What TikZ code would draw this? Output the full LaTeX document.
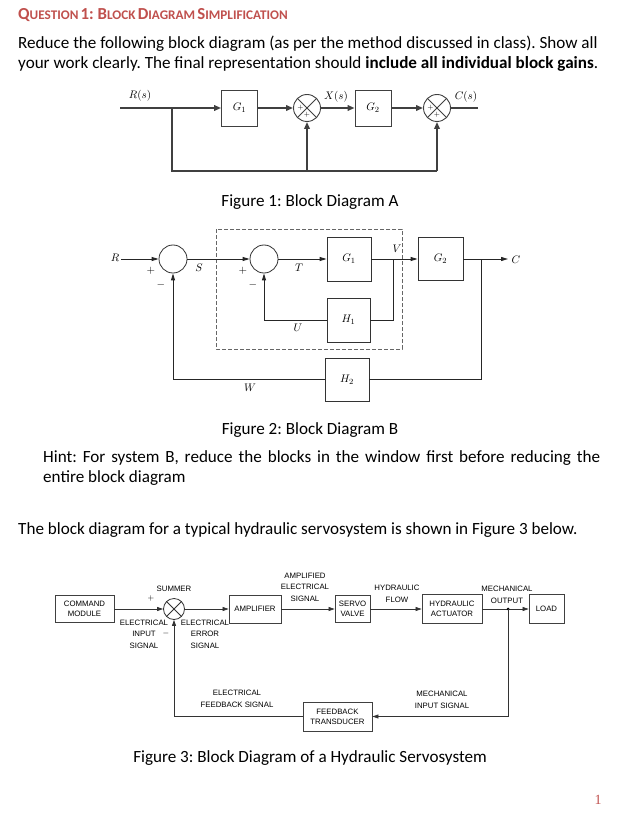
\documentclass[tikz,border=0pt]{standalone}
\usepackage{fontspec}
\setmainfont{Carlito}
\newfontfamily\labelfont{Liberation Sans}
\newfontfamily\pagefont{Liberation Serif}
\usetikzlibrary{arrows.meta}
\definecolor{headred}{RGB}{192,80,77}
\newcommand{\smcap}[2]{{\fontsize{16.8}{18}\selectfont #1}{\fontsize{13.2}{18}\selectfont #2}}

\begin{document}
\frenchspacing
\begin{tikzpicture}[x=1pt, y=-1pt,
	every node/.style={inner sep=0pt},
	txt/.style={font=\fontsize{17.1}{20}\selectfont, anchor=base west},
	capt/.style={font=\fontsize{17.1}{20}\selectfont, anchor=base},
	blka/.style={draw=black!75, line width=0.8pt, minimum width=36pt, minimum height=36pt, font=\fontsize{11}{13}\selectfont},
	suma/.style={draw=black!75, circle, line width=0.9pt, minimum size=27pt},
	wirea/.style={draw=black!75, line width=1.8pt},
	tipa/.style={-{Triangle[length=7pt,width=5.5pt]}},
	blkb/.style={draw=black!80, line width=0.8pt, minimum width=44pt, minimum height=44pt, font=\fontsize{11}{13}\selectfont},
	sumb/.style={draw=black!80, circle, line width=0.8pt, minimum size=28pt},
	wireb/.style={draw=black!85, line width=1pt},
	tipb/.style={-{Triangle[length=7pt,width=4pt]}},
	blkc/.style={draw=black!75, line width=0.8pt, align=center, font=\labelfont\fontsize{7.8}{10}\selectfont},
	wirec/.style={draw=black!80, line width=0.7pt},
	tipc/.style={-{Triangle[length=6pt,width=4pt]}},
	lblc/.style={align=center, font=\labelfont\fontsize{7.8}{11.5}\selectfont},
	lbl/.style={font=\fontsize{11}{13}\selectfont}]
	\useasboundingbox[fill=white] (0,0) rectangle (631,818);

	% heading and question text
	\node[anchor=base west, text=headred, font=\bfseries] (title) at (18,20)
		{\smcap{Q}{UESTION} \smcap{1: B}{LOCK} \smcap{D}{IAGRAM} \smcap{S}{IMPLIFICATION}};
	\node[txt] (q1a) at (18,49) {Reduce the following block diagram (as per the method discussed in class). Show all};
	\node[txt] (q1b) at (18,69) {your work clearly. The final representation should \textbf{include all individual block gains}.};

	% block diagram A
	\node[blka] (ga1) at (239.5,108) {$G_1$};
	\node[suma] (sa1) at (307,108) {};
	\node[blka] (ga2) at (373,108) {$G_2$};
	\node[suma] (sa2) at (437,108) {};
	\coordinate (ra) at (120,108);
	\coordinate (rabr) at (172,108);
	\coordinate (ca) at (478,108);
	\coordinate (fba1) at (172,171);
	\coordinate (fba2) at (307,171);
	\coordinate (fba3) at (437,171);
	\foreach \s in {sa1,sa2} {
		\draw[black!75, line width=0.9pt] (\s.north east) -- (\s.south west) (\s.north west) -- (\s.south east);
		\node[font=\scriptsize] at ([xshift=-6.5pt]\s.center) {$+$};
		\node[font=\scriptsize] at ([yshift=-6.5pt]\s.center) {$+$};
	}
	\draw[wirea] (ra) -- (rabr);
	\draw[wirea, tipa] (rabr) -- (ga1);
	\draw[wirea, tipa] (ga1) -- (sa1);
	\draw[wirea, tipa] (sa1) -- (ga2);
	\draw[wirea, tipa] (ga2) -- (sa2);
	\draw[wirea] (sa2) -- (ca);
	\draw[wirea] (rabr) -- (fba1) -- (fba3);
	\draw[wirea, tipa] (fba2) -- (sa1);
	\draw[wirea, tipa] (fba3) -- (sa2);
	\node[lbl] (lra) at (140,96) {$R(s)$};
	\node[lbl] (lxa) at (336,97) {$X(s)$};
	\node[lbl] (lca) at (466,97) {$C(s)$};
	\node[capt] (cap1) at (310,207) {Figure 1: Block Diagram A};

	% block diagram B
	\draw[black!60, line width=0.8pt, dash pattern=on 4pt off 2pt] (216,229) rectangle (402,349);
	\node[sumb] (qb1) at (173,259) {};
	\node[sumb] (qb2) at (264,259) {};
	\node[blkb] (gb1) at (349,259) {$G_1$};
	\node[blkb, minimum width=43pt] (hb1) at (348.5,320) {$H_1$};
	\node[blkb, minimum width=45pt, minimum height=43pt] (gb2) at (440.5,259) {$G_2$};
	\node[blkb, minimum height=43pt] (hb2) at (347,379.5) {$H_2$};
	\coordinate (rb) at (121,259);
	\coordinate (vb) at (393,259);
	\coordinate (cbr) at (481,259);
	\coordinate (cb) at (508,259);
	\draw[wireb, tipb] (rb) -- (qb1);
	\draw[wireb, tipb] (qb1) -- (qb2);
	\draw[wireb, tipb] (qb2) -- (gb1);
	\draw[wireb, tipb] (gb1) -- (gb2);
	\draw[wireb, tipb] (gb2) -- (cb);
	\draw[wireb] (vb) |- (hb1);
	\draw[wireb, tipb] (hb1) -| (qb2);
	\draw[wireb] (cbr) |- (hb2);
	\draw[wireb, tipb] (hb2) -| (qb1);
	\node[lbl] (lrb) at (115,258) {$R$};
	\node[lbl] (lsb) at (199,268) {$S$};
	\node[lbl] (ltb) at (299,268) {$T$};
	\node[lbl] (lub) at (298,328) {$U$};
	\node[lbl] (lvb) at (397,249) {$V$};
	\node[lbl] (lwb) at (250,388) {$W$};
	\node[lbl] (lcb) at (516,260) {$C$};
	\node[lbl] at (151,271) {$+$};
	\node[lbl] at (161,285) {$-$};
	\node[lbl] at (243,271) {$+$};
	\node[lbl] at (253,285) {$-$};
	\node[capt] (cap2) at (310,434) {Figure 2: Block Diagram B};
	\node[txt] (hint1) at (43,462) {\makebox[557pt][s]{Hint: For system B, reduce the blocks in the window first before reducing the}};
	\node[txt] (hint2) at (43,482) {entire block diagram};
	\node[txt] (intro) at (18,534) {The block diagram for a typical hydraulic servosystem is shown in Figure 3 below.};

	% hydraulic servosystem
	\node[blkc, minimum width=59pt, minimum height=27pt] (cmd) at (84.5,609) {COMMAND\\MODULE};
	\node[draw=black!80, circle, line width=0.8pt, minimum size=21pt] (sm) at (174,609) {};
	\draw[black!80, line width=0.8pt] (sm.north east) -- (sm.south west) (sm.north west) -- (sm.south east);
	\node[blkc, minimum width=52pt, minimum height=28pt] (amp) at (255,609) {AMPLIFIER};
	\node[blkc, minimum width=35pt, minimum height=27pt] (sv) at (352.5,609) {SERVO\\VALVE};
	\node[blkc, minimum width=60pt, minimum height=29pt] (act) at (452,609) {HYDRAULIC\\ACTUATOR};
	\node[blkc, minimum width=35pt, minimum height=29pt] (ld) at (546.5,609) {LOAD};
	\node[blkc, minimum width=69pt, minimum height=29pt] (fbt) at (337.5,716.5) {FEEDBACK\\TRANSDUCER};
	\coordinate (mj) at (508,609);
	\draw[wirec, tipc] (cmd) -- (sm);
	\draw[wirec, tipc] (sm) -- (amp);
	\draw[wirec, tipc] (amp) -- (sv);
	\draw[wirec, tipc] (sv) -- (act);
	\draw[wirec, tipc] (act) -- (ld);
	\fill (mj) circle (1.5pt);
	\draw[wirec, tipc] (mj) |- (fbt);
	\draw[wirec, tipc] (fbt) -| (sm);
	\node[lblc] (lsum) at (174,589) {SUMMER};
	\node[lblc] at (151,598) {$+$};
	\node[lblc] (lein) at (144,634) {ELECTRICAL\\INPUT\\SIGNAL};
	\node[lblc] at (166,633) {$-$};
	\node[lblc] (leer) at (205,634) {ELECTRICAL\\ERROR\\SIGNAL};
	\node[lblc] (lamp) at (305,587) {AMPLIFIED\\ELECTRICAL\\SIGNAL};
	\node[lblc] (lflow) at (397,594) {HYDRAULIC\\FLOW};
	\node[lblc] (lmout) at (507,595) {MECHANICAL\\OUTPUT};
	\node[lblc] (lefb) at (237,699) {ELECTRICAL\\FEEDBACK SIGNAL};
	\node[lblc] (lmin) at (442,700) {MECHANICAL\\INPUT SIGNAL};
	\node[capt] (cap3) at (310,762) {Figure 3: Block Diagram of a Hydraulic Servosystem};
	\node[anchor=base, text=headred, font=\pagefont\fontsize{14}{16}\selectfont] (pnum) at (598,804) {1};
\end{tikzpicture}
\end{document}
